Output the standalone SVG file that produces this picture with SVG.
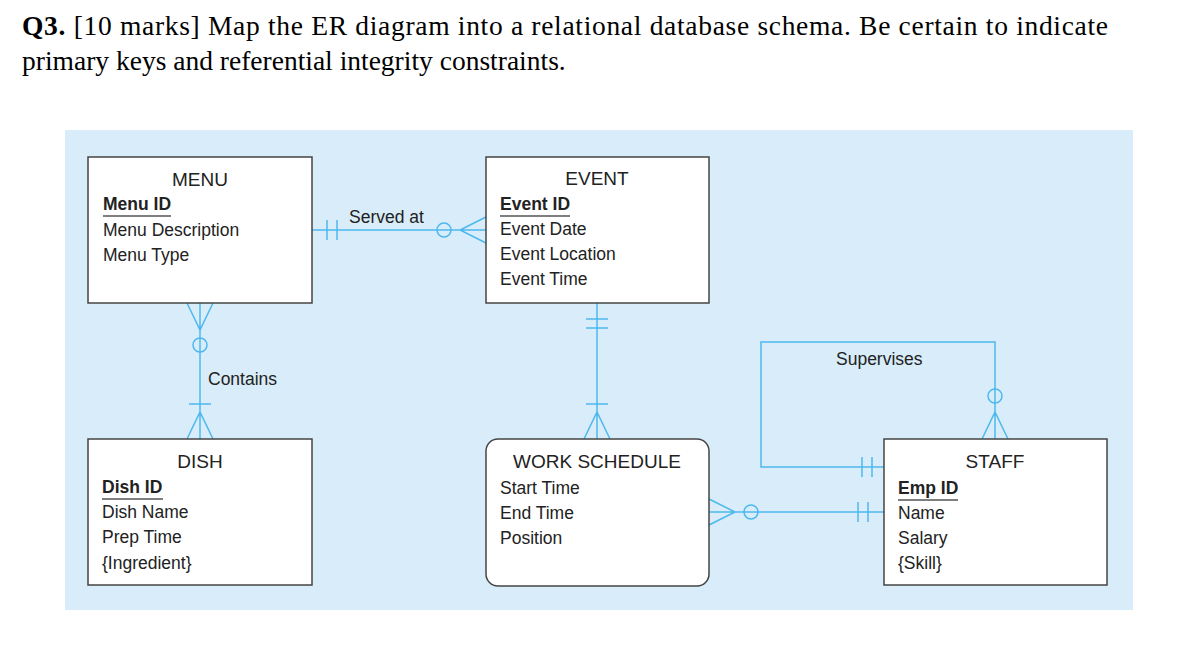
<svg xmlns="http://www.w3.org/2000/svg" width="1188" height="660" viewBox="0 0 1188 660">
<style>
.t{font-family:"Liberation Serif",serif;font-size:27.5px;fill:#000}
.b{fill:#fff;stroke:#444;stroke-width:1.5}
.h{font-family:"Liberation Sans",Arial,sans-serif;font-size:19px;fill:#222;text-anchor:middle}
.a{font-family:"Liberation Sans",Arial,sans-serif;font-size:17.5px;fill:#222}
.k{font-weight:bold}
.u{stroke:#555;stroke-width:1.5}
.c{fill:none;stroke:#4db8ee;stroke-width:1.5}
</style>
<rect width="1188" height="660" fill="#fff"/>
<text class="t" x="22" y="35" textLength="1086" lengthAdjust="spacing"><tspan font-weight="bold">Q3.</tspan> [10 marks] Map the ER diagram into a relational database schema. Be certain to indicate</text>
<text class="t" x="22" y="70">primary keys and referential integrity constraints.</text>
<rect x="65" y="130" width="1068" height="480" fill="#d8ecf9"/>
<g id="connectors" class="c">
<path d="M312 230H486M327 220V240M337 220V240M486 217L460 230L486 243"/><circle cx="444" cy="230" r="7"/>
<path d="M200 303V439M187 303L200 330L213 303M189 404H211M187 439L200 412L213 439"/><circle cx="200" cy="345" r="7"/>
<path d="M597 303V439M586 319H608M586 328H608M586 404H608M584 439L597 412L610 439"/>
<path d="M884 467H761V342H995V439M862 457V477M872 457V477M982 439L995 412L1008 439"/><circle cx="995" cy="396" r="7"/>
<path d="M709 512H884M709 499L735 512L709 525M858 502V522M868 502V522"/><circle cx="751" cy="512" r="7"/>
</g>
<text class="a" x="349" y="223">Served at</text>
<text class="a" x="208" y="385">Contains</text>
<text class="a" x="836" y="365">Supervises</text>
<g id="menu"><rect class="b" x="88" y="157" width="224" height="146"/>
<text class="h" x="200" y="186">MENU</text>
<text class="a k" x="103" y="210">Menu ID</text><line class="u" x1="103" y1="216" x2="171" y2="216"/>
<text class="a" x="103" y="236">Menu Description</text><text class="a" x="103" y="261">Menu Type</text></g>
<g id="event"><rect class="b" x="486" y="157" width="223" height="146"/>
<text class="h" x="597" y="185">EVENT</text>
<text class="a k" x="500" y="210">Event ID</text><line class="u" x1="500" y1="216" x2="570" y2="216"/>
<text class="a" x="500" y="235">Event Date</text><text class="a" x="500" y="260">Event Location</text><text class="a" x="500" y="285">Event Time</text></g>
<g id="dish"><rect class="b" x="88" y="439" width="224" height="146"/>
<text class="h" x="200" y="468">DISH</text>
<text class="a k" x="102" y="493">Dish ID</text><line class="u" x1="102" y1="499" x2="163" y2="499"/>
<text class="a" x="102" y="518">Dish Name</text><text class="a" x="102" y="543">Prep Time</text><text class="a" x="102" y="569">{Ingredient}</text></g>
<g id="work"><rect class="b" x="486" y="439" width="223" height="147" rx="12"/>
<text class="h" x="597" y="468">WORK SCHEDULE</text>
<text class="a" x="500" y="494">Start Time</text><text class="a" x="500" y="519">End Time</text><text class="a" x="500" y="544">Position</text></g>
<g id="staff"><rect class="b" x="884" y="439" width="223" height="146"/>
<text class="h" x="995" y="468">STAFF</text>
<text class="a k" x="898" y="494">Emp ID</text><line class="u" x1="898" y1="500" x2="958" y2="500"/>
<text class="a" x="898" y="519">Name</text><text class="a" x="898" y="544">Salary</text><text class="a" x="898" y="569">{Skill}</text></g>
</svg>
